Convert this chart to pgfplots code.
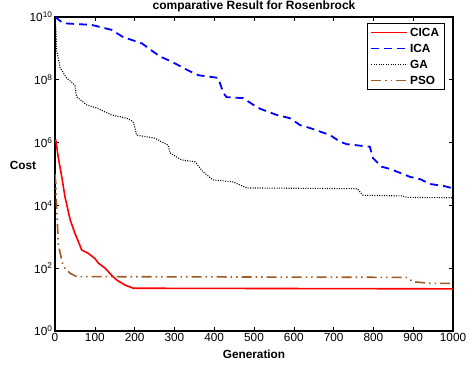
\documentclass[border=0pt]{standalone}
\usepackage{fontspec}
\setmainfont{Liberation Sans}
\usepackage{pgfplots}
\pgfplotsset{compat=1.18}
\definecolor{psobrown}{RGB}{160,90,35}
\newcommand{\lstrut}{\rule[-4.5pt]{0pt}{15pt}}
\begin{document}
\begin{tikzpicture}
\path[use as bounding box] (0pt,0pt) rectangle (474pt,366pt);
\begin{axis}[
  at={(55pt,35pt)}, anchor=south west,
  scale only axis, width=398pt, height=314pt,
  xmin=0, xmax=1000, ymin=1, ymax=1e10,
  ymode=log,
  xtick={0,100,...,1000},
  ytick={1,1e2,1e4,1e6,1e8,1e10},
  yticklabels={10\textsuperscript{0},10\textsuperscript{2},10\textsuperscript{4},10\textsuperscript{6},10\textsuperscript{8},10\textsuperscript{10}},
  minor tick num=0, minor ytick={},
  tick align=inside, major tick length=4pt,
  /pgf/number format/assume math mode=true,
  /pgf/number format/1000 sep={},
  tick label style={font=\fontsize{11.8}{13}\selectfont, black},
  xticklabel style={yshift=1pt},
  yticklabel style={xshift=1pt},
  axis line style={line width=1.2pt},
  every tick/.style={black, line width=0.6pt},
  legend style={at={(0.784,1)}, anchor=north west, yshift=-6pt,
    draw=black, line width=0.9pt, font=\bfseries\fontsize{11.8}{13}\selectfont,
    inner xsep=3pt, inner ysep=1pt},
  legend cell align=left,
  legend image code/.code={\draw[#1, line width=1.7pt] (0pt,0pt) -- (36pt,0pt);},
]
\addplot[red, line width=1.6pt] coordinates {
(0,1.2e6) (2,1.2e6) (8,3.5e5) (17,8.1e4) (25,1.9e4) (38,3.5e3) (50,1.3e3)
(59,690) (67,380) (84,295) (100,204) (109,145) (126,100) (142,60) (155,42)
(176,29) (197,23) (1000,22)
};
\addlegendentry{\lstrut CICA}
\addplot[blue, line width=1.8pt, dash pattern=on 8pt off 5pt] coordinates {
(0,1e10) (21,6.3e9) (92,5.6e9) (142,3.9e9) (171,2.3e9) (218,1.45e9) (246,8e8)
(264,5.5e8) (293,3.8e8) (334,2e8) (360,1.4e8) (410,1.15e8) (423,3.8e7) (431,2.8e7)
(473,2.6e7) (498,1.6e7) (515,1.2e7) (557,7.6e6) (590,6e6) (616,3.6e6) (641,2.9e6)
(691,1.74e6) (716,1.07e6) (733,8.9e5) (791,7.4e5) (799,3.2e5) (821,1.7e5)
(842,1.45e5) (892,8.1e4) (917,6.9e4) (942,4.8e4) (975,4.2e4) (1000,3.5e4)
};
\addlegendentry{\lstrut ICA}
\addplot[black, line width=1.1pt, dash pattern=on 1pt off 1.4pt] coordinates {
(0,1e10) (2,4.9e9) (4,8.9e8) (13,2.4e8) (29,1.15e8) (50,6.8e7) (54,2.9e7)
(79,1.6e7) (105,1.26e7) (142,7.6e6) (180,6e6) (196,4.7e6) (201,2.9e6) (205,1.74e6)
(251,1.38e6) (284,8.3e5) (289,4.7e5) (318,2.8e5) (352,2.45e5) (372,1.17e5)
(397,6.5e4) (447,5.6e4) (482,3.6e4) (759,3.4e4) (774,2.1e4) (874,2.0e4)
(884,1.8e4) (1000,1.75e4)
};
\addlegendentry{\lstrut GA}
\addplot[psobrown, line width=1.6pt, dash pattern=on 10pt off 4pt on 1.5pt off 4pt on 1.5pt off 4pt] coordinates {
(0,1e5) (2,5e4) (4,9e3) (6,3e3) (8,600) (13,300) (21,112) (38,69) (54,54)
(883,51) (900,37) (942,33) (1000,33)
};
\addlegendentry{\lstrut PSO}
\end{axis}
\node[anchor=base, font=\bfseries\fontsize{12}{13}\selectfont] at (254pt,356pt) {comparative Result for Rosenbrock};
\node[font=\bfseries\fontsize{11.8}{13}\selectfont] at (23pt,201pt) {Cost};
\node[anchor=base, font=\bfseries\fontsize{11.8}{13}\selectfont] at (254pt,7pt) {Generation};
\end{tikzpicture}
\end{document}
